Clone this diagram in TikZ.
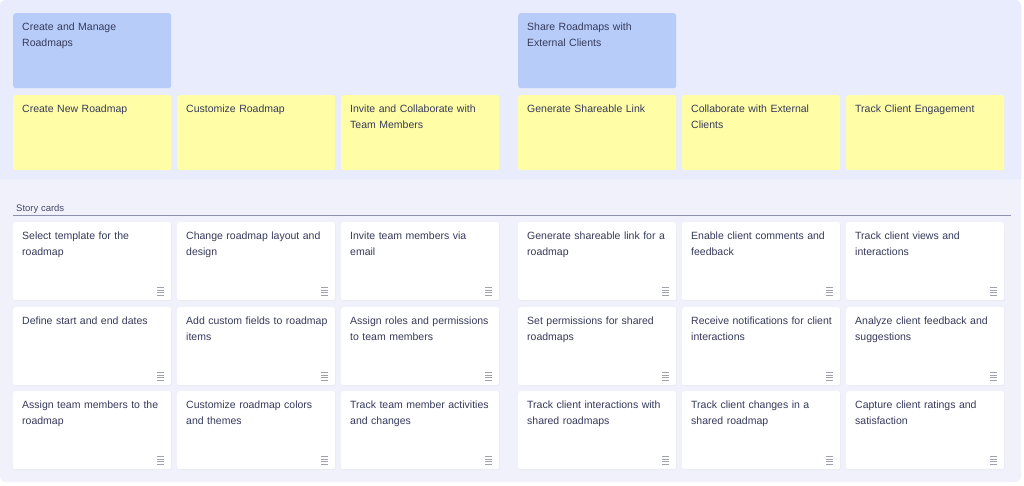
\documentclass[tikz,border=0pt]{standalone}
\usepackage{fontspec}
\setmainfont{Liberation Sans}
\usetikzlibrary{shadows}
\definecolor{panelbg}{HTML}{F0F1FB}
\definecolor{bandbg}{HTML}{E8ECFC}
\definecolor{epicblue}{HTML}{B8CCF9}
\definecolor{featyellow}{HTML}{FFFEA6}
\definecolor{cardtext}{HTML}{363A5A}
\definecolor{labeltext}{HTML}{464B6A}
\definecolor{rulecol}{HTML}{8E90B2}
\definecolor{iconcol}{HTML}{9FA1AE}
\tikzset{
  box/.style={rectangle, rounded corners=2.5pt, anchor=north west,
    text width=140pt, inner xsep=9pt, inner ysep=0pt, align=left,
    text height=17pt, text=cardtext, font=\fontsize{10.5}{16}\selectfont},
  epic/.style={box, fill=epicblue, text depth=58pt},
  feature/.style={box, fill=featyellow, text depth=58pt},
  story/.style={box, fill=white, text depth=61pt,
    drop shadow={shadow xshift=0.6pt, shadow yshift=-0.8pt, opacity=0.07},
    path picture={
      \draw[iconcol, line width=0.8pt]
        ([shift={(-14pt,5pt)}]path picture bounding box.south east) -- ++(7pt,0)
        ([shift={(-14pt,7.5pt)}]path picture bounding box.south east) -- ++(7pt,0)
        ([shift={(-14pt,10pt)}]path picture bounding box.south east) -- ++(7pt,0)
        ([shift={(-14pt,12.5pt)}]path picture bounding box.south east) -- ++(7pt,0);
    }},
  sectionlabel/.style={anchor=base west, inner sep=0pt, text=labeltext,
    font=\fontsize{9.5}{11}\selectfont},
}
\begin{document}
\begin{tikzpicture}[x=1pt,y=-1pt]
  \useasboundingbox (0,0) rectangle (1024,485);
  \fill[white] (0,0) rectangle (1024,485);
  \fill[panelbg, rounded corners=6pt] (0,0) rectangle (1021,482);
  \fill[bandbg] (0,179) [rounded corners=6pt] -- (0,0) -- (1021,0) [sharp corners] -- (1021,179) -- cycle;

  \node[epic] (epicA) at (13,13) {Create and Manage\\Roadmaps};
  \node[epic] (epicB) at (518,13) {Share Roadmaps with\\External Clients};

  \node[feature] (featA) at (13,95) {Create New Roadmap};
  \node[feature] (featB) at (177,95) {Customize Roadmap};
  \node[feature] (featC) at (341,95) {Invite and Collaborate with\\Team Members};
  \node[feature] (featD) at (518,95) {Generate Shareable Link};
  \node[feature] (featE) at (682,95) {Collaborate with External\\Clients};
  \node[feature] (featF) at (846,95) {Track Client Engagement};

  \node[sectionlabel] (storylabel) at (16,211) {Story cards};
  \coordinate (ruleL) at (13,215);
  \coordinate (ruleR) at (1011,215);
  \draw[rulecol, line width=0.9pt] (ruleL) -- (ruleR);

  \node[story] (sA1) at (13,222) {Select template for the\\roadmap};
  \node[story] (sA2) at (13,307) {Define start and end dates};
  \node[story] (sA3) at (13,391) {Assign team members to the\\roadmap};

  \node[story] (sB1) at (177,222) {Change roadmap layout and\\design};
  \node[story] (sB2) at (177,307) {\mbox{Add custom fields to roadmap}\\items};
  \node[story] (sB3) at (177,391) {Customize roadmap colors\\and themes};

  \node[story] (sC1) at (341,222) {Invite team members via\\email};
  \node[story] (sC2) at (341,307) {Assign roles and permissions\\to team members};
  \node[story] (sC3) at (341,391) {Track team member activities\\and changes};

  \node[story] (sD1) at (518,222) {Generate shareable link for a\\roadmap};
  \node[story] (sD2) at (518,307) {Set permissions for shared\\roadmaps};
  \node[story] (sD3) at (518,391) {Track client interactions with\\shared roadmaps};

  \node[story] (sE1) at (682,222) {Enable client comments and\\feedback};
  \node[story] (sE2) at (682,307) {\mbox{Receive notifications for client}\\interactions};
  \node[story] (sE3) at (682,391) {Track client changes in a\\shared roadmap};

  \node[story] (sF1) at (846,222) {Track client views and\\interactions};
  \node[story] (sF2) at (846,307) {Analyze client feedback and\\suggestions};
  \node[story] (sF3) at (846,391) {Capture client ratings and\\satisfaction};
\end{tikzpicture}
\end{document}
